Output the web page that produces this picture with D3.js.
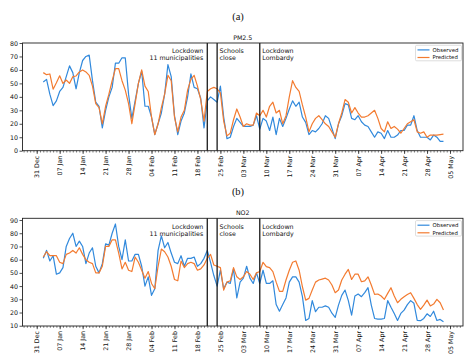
<!DOCTYPE html>
<html>
<head>
<meta charset="utf-8">
<script src="https://cdn.jsdelivr.net/npm/d3@7"></script>
<style>
  html, body { margin: 0; padding: 0; background: #fff; }
  svg { display: block; }
  text { font-family: "DejaVu Sans", sans-serif; fill: #111; }
</style>
</head>
<body>
<svg id="chart" width="474" height="356"></svg>
<script>
// ---------------- DATA ----------------
const startDate = "2020-01-02";   // first daily value
const endDate = "2020-05-03";     // last daily value
const seriesNames = ["Observed", "Predicted"];
const weeklyTickStart = "2019-12-31";

const pm25Observed = [
  51, 53, 42, 33.5, 37, 44, 47, 55, 63, 58,
  46, 58, 67, 70, 71, 52, 36, 33, 17, 30,
  40, 47, 65, 65, 69, 69, 42, 24, 37, 50,
  59, 33, 33, 25, 12, 20, 28, 42, 64, 55,
  26, 12, 22, 28, 40, 57, 47, 46, 39, 17,
  37, 40, 38, 36, 48, 25, 9, 10, 18, 24,
  21, 18, 18, 18, 19, 26, 16, 24, 22, 15,
  25, 12, 24, 18, 24, 31, 37, 33, 36, 25,
  21, 12, 15, 14, 16.5, 20, 26, 24, 16.5, 9,
  20, 26, 35, 34, 24, 23, 26, 21.5, 19, 18,
  14, 10, 14, 13, 9, 15, 10, 10, 11.6, 15,
  15, 19, 19, 26, 15, 10, 10, 10, 8, 11.6,
  10, 7, 7
];
const pm25Predicted = [
  58, 56.5, 57, 45.7, 50.5, 55.6, 50, 52.5, 50, 55,
  55.5, 58.5, 60, 58.5, 56, 48, 35, 32, 20, 33,
  42, 52, 61, 61, 52, 45, 35, 20, 35, 50,
  60, 48, 44, 25, 12, 20, 32, 42, 56, 52,
  25, 14, 25, 30, 45, 53, 56, 48, 38, 22,
  44, 46, 47, 46, 43, 22, 11, 13, 23, 31,
  25, 18, 20, 19, 19, 28, 26, 30, 25, 33,
  36, 28, 30, 20, 26, 40, 52, 47, 44, 34,
  25, 14, 20, 24, 26, 23, 20, 18, 14, 10,
  20, 28, 38, 36, 28, 32, 28, 25, 25, 26,
  28, 30, 24, 16.5, 14, 21.5, 16.5, 18, 16, 13,
  16.5, 20, 21.5, 23, 14, 13, 14, 10, 11.6, 11.6,
  11.6, 12, 12.3
];
const no2Observed = [
  61, 67, 59, 63, 49, 50, 54, 70, 76, 80,
  70, 74, 70, 57, 65, 69, 55, 50, 57, 72,
  71, 80, 87, 70, 60, 75, 59, 59, 64, 64,
  55, 40, 47, 33, 38, 67, 78, 69, 73, 65,
  58, 57, 63, 55, 61, 61, 62, 55, 57, 61,
  67, 58, 48, 40, 52, 38, 43, 42, 53, 31,
  43, 46, 55, 46, 42, 50, 42, 52, 42, 42,
  44, 26, 21, 26, 31, 43, 47, 47, 43, 32,
  14, 15.5, 29, 20.6, 24, 24, 25, 24, 19.5, 16.3,
  25.6, 33, 37, 29, 18, 32.5, 34, 32, 35, 38.8,
  25.6, 15.5, 15, 15, 15.5, 29, 24, 19.3, 14, 19.3,
  21.8, 26, 29, 27, 14, 13.8, 15.5, 19, 17, 21,
  14, 14.8, 13
];
const no2Predicted = [
  62, 66, 63, 63, 63, 58, 57, 64, 65, 67,
  65, 69, 64, 60, 58, 57, 50, 50, 55, 70,
  70, 75, 75, 65, 53, 58, 52, 51, 62, 58,
  52, 46, 51, 42, 38, 55, 68, 66, 62, 55,
  45, 44, 59, 54, 57, 58, 57, 52, 53, 56,
  61, 64, 56, 55, 54, 37, 43, 44, 54, 47,
  45, 47, 51, 49, 45, 50, 51, 58, 54.7, 54,
  51, 43, 36, 36, 44.6, 52, 58, 59, 52, 39.5,
  29.4, 30.7, 37, 43, 44.6, 45.3, 46, 44.6, 40.8, 35,
  37, 44.6, 49, 52.6, 45, 49, 49, 43.3, 44, 47,
  40.8, 33.7, 34, 32.5, 30, 34.5, 38.8, 32.5, 27.4, 30,
  32, 33.7, 35, 30.7, 26, 22.4, 25.6, 29.4, 25, 26.4,
  30, 27.4, 22
];

const eventDates = ["2020-02-21", "2020-02-24", "2020-03-08"];
const eventLabels = [["Lockdown", "11 municipalities"], ["Schools", "close"], ["Lockdown", "Lombardy"]];
const eventAlign = ["end", "start", "start"];

const pm25Ticks = [0, 10, 20, 30, 40, 50, 60, 70, 80];
const no2Ticks = [10, 20, 30, 40, 50, 60, 70, 80, 90];

// ---------------- LAYOUT ----------------
const parse = d3.utcParse("%Y-%m-%d");
const dates = d3.utcDay.range(parse(startDate), d3.utcDay.offset(parse(endDate), 1));
const colors = ["#3189dc", "#f37b30"];
const fmt = d3.utcFormat("%d %b");

const svg = d3.select("#chart");
const left = 22.5, right = 463;
const tick0 = parse(weeklyTickStart);
const x = d3.scaleUtc()
  .domain([d3.utcHour.offset(tick0, -4.33 * 24), d3.utcHour.offset(tick0, 129.97 * 24)])
  .range([left, right]);

function panel(cfg) {
  const { top, bottom, yDomain, yTicks, obs, pred, title, tag, tagY, annotOffset } = cfg;
  const y = d3.scaleLinear().domain(yDomain).range([bottom, top]);
  const g = svg.append("g");

  // panel tag (a)/(b)
  svg.append("text").attr("x", 238).attr("y", tagY)
    .attr("text-anchor", "middle")
    .style("font-family", "'Liberation Serif', 'DejaVu Serif', serif")
    .style("font-size", "10.5px").text(tag);

  // title
  g.append("text").attr("x", (left + right) / 2).attr("y", top - 3.5)
    .attr("text-anchor", "middle").style("font-size", "6.3px").text(title);

  // lines
  const line = vals => d3.line()
    .x((d, i) => x(dates[i]))
    .y(d => y(d))(vals);
  [obs, pred].forEach((vals, k) => {
    g.append("path").attr("d", line(vals))
      .attr("fill", "none").attr("stroke", colors[k])
      .attr("stroke-width", 1.2).attr("stroke-linejoin", "round");
  });

  // event lines
  eventDates.forEach((ds, i) => {
    const ex = x(parse(ds));
    g.append("line").attr("x1", ex).attr("x2", ex).attr("y1", top).attr("y2", bottom)
      .attr("stroke", "#1a1a1a").attr("stroke-width", 1.3);
    const t = g.append("text")
      .attr("x", eventAlign[i] === "end" ? ex - 4 : ex + 2.5)
      .attr("y", top + annotOffset)
      .attr("text-anchor", eventAlign[i])
      .style("font-size", "6.3px");
    eventLabels[i].forEach((s, j) => {
      t.append("tspan").attr("x", eventAlign[i] === "end" ? ex - 4 : ex + 2.5)
        .attr("dy", j === 0 ? 0 : 7.3).text(s);
    });
  });

  // frame
  g.append("rect").attr("x", left).attr("y", top)
    .attr("width", right - left).attr("height", bottom - top)
    .attr("fill", "none").attr("stroke", "#222").attr("stroke-width", 0.9);

  // y axis
  const ya = g.append("g").attr("transform", `translate(${left},0)`)
    .call(d3.axisLeft(y).tickValues(yTicks).tickSize(3).tickPadding(1.5));
  ya.select(".domain").remove();
  ya.selectAll("line").attr("stroke", "#222").attr("stroke-width", 0.8);
  ya.selectAll("text").style("font-size", "6.3px").style("font-family", "DejaVu Sans").attr("fill", "#111");

  // x minor ticks (daily)
  const xm = g.append("g").attr("transform", `translate(0,${bottom})`)
    .call(d3.axisBottom(x).ticks(d3.utcDay.every(1)).tickSize(1.8).tickFormat(""));
  xm.select(".domain").remove();
  xm.selectAll("line").attr("stroke", "#222").attr("stroke-width", 0.6);

  // x major ticks (weekly, Tuesdays)
  const xa = g.append("g").attr("transform", `translate(0,${bottom})`)
    .call(d3.axisBottom(x).ticks(d3.utcTuesday.every(1)).tickSize(3.2).tickFormat(fmt));
  xa.select(".domain").remove();
  xa.selectAll("line").attr("stroke", "#222").attr("stroke-width", 0.8);
  xa.selectAll("text")
    .attr("transform", "rotate(-90)")
    .attr("x", -5).attr("y", 0).attr("dy", "0.35em")
    .attr("text-anchor", "end")
    .style("font-size", "6.3px").style("font-family", "DejaVu Sans").attr("fill", "#111");

  // legend
  const lx = 415.5, ly = top + 2.3, lw = 46, lh = 15.5;
  const lg = g.append("g");
  lg.append("rect").attr("x", lx).attr("y", ly).attr("width", lw).attr("height", lh)
    .attr("rx", 1.2).attr("fill", "#fff").attr("fill-opacity", 0.85)
    .attr("stroke", "#d0d0d0").attr("stroke-width", 0.7);
  seriesNames.forEach((n, k) => {
    const yy = ly + 4.6 + k * 7.6;
    lg.append("line").attr("x1", lx + 2).attr("x2", lx + 14).attr("y1", yy).attr("y2", yy)
      .attr("stroke", colors[k]).attr("stroke-width", 1.2);
    lg.append("text").attr("x", lx + 17).attr("y", yy).attr("dy", "0.35em")
      .style("font-size", "5.4px").text(n);
  });
}

panel({ top: 43, bottom: 150.7, yDomain: [0, 80], yTicks: pm25Ticks,
        obs: pm25Observed, pred: pm25Predicted, title: "PM2.5", tag: "(a)", tagY: 19.5, annotOffset: 9.5 });
panel({ top: 218.3, bottom: 326, yDomain: [9.8, 91.3], yTicks: no2Ticks,
        obs: no2Observed, pred: no2Predicted, title: "NO2", tag: "(b)", tagY: 195, annotOffset: 10.8 });
</script>
</body>
</html>
